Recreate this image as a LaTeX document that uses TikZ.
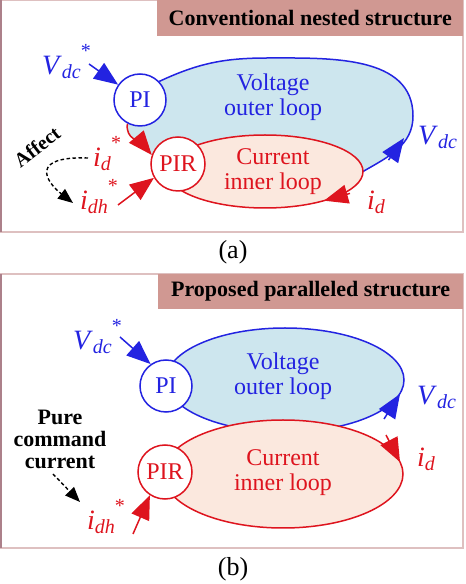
\documentclass[tikz,border=0pt]{standalone}
\usepackage{fontspec}
\setmainfont{Liberation Serif}
\usetikzlibrary{arrows.meta}

\definecolor{vblue}{RGB}{35,35,225}
\definecolor{cred}{RGB}{222,20,30}
\definecolor{vfill}{RGB}{205,230,238}
\definecolor{cfill}{RGB}{251,232,222}
\definecolor{titlefill}{RGB}{208,152,146}
\definecolor{framelight}{RGB}{222,192,192}
\definecolor{framedark}{RGB}{172,128,138}

% signal name: main letter, subscript, superscript
\newcommand\sig[3]{\textit{#1}\raisebox{-0.12em}{\fontsize{20}{20}\selectfont\textit{#2}}\raisebox{0.62em}{\fontsize{20}{20}\selectfont #3}}

\pgfdeclarelayer{front}
\pgfsetlayers{main,front}

\tikzset{
  blueline/.style={draw=vblue, line width=1.5pt},
  redline/.style={draw=cred, line width=1.5pt},
  dashline/.style={draw=black, line width=1.4pt, dash pattern=on 3.5pt off 2.5pt},
  headtip/.style={-{Triangle[length=24pt,width=19pt]}},
  smalltip/.style={-{Triangle[length=15pt,width=12pt]}},
  ctrlbox/.style={circle, line width=1.5pt, fill=white, inner sep=0pt,
    font=\fontsize{24}{24}\selectfont},
  pibox/.style={ctrlbox, draw=vblue, text=vblue, minimum size=52pt},
  pirbox/.style={ctrlbox, draw=cred, text=cred, minimum size=54pt},
  looptext/.style={align=center, font=\fontsize{24}{25}\selectfont},
  sigtext/.style={font=\fontsize{28}{28}\selectfont, inner sep=0pt, anchor=base west},
  titlebox/.style={fill=titlefill, inner sep=0pt, anchor=north east,
    font=\bfseries\fontsize{22}{22}\selectfont},
  notetext/.style={align=center, font=\bfseries\fontsize{22}{22}\selectfont},
  caption/.style={font=\fontsize{26}{26}\selectfont},
}

\begin{document}
\begin{tikzpicture}[x=1pt,y=1pt]
\useasboundingbox (0,0) rectangle (466,584);

% ---------------- (a) conventional nested structure ----------------
\draw[framelight, line width=1.2pt] (1,583.4) rectangle (463,352);
\draw[framedark, line width=2pt] (1,584) -- (1,352);
\node[titlebox, minimum width=306pt, minimum height=36pt] (ta) at (463.4,584)
  {Conventional nested structure};

\begin{pgfonlayer}{front}
  \node[pibox] (PIa) at (140,484) {PI};
  \node[pirbox] (PIRa) at (178,420) {PIR};
\end{pgfonlayer}

\coordinate (CLa) at (265,412.5);
\coordinate (Ea) at (363,412.5);

% voltage loop area
\fill[vfill] (PIa.242) to[out=-100,in=130] (PIRa.161) -- (CLa) -- (Ea)
  to[out=30,in=-90] (413,468) to[out=90,in=0] (268,526)
  to[out=180,in=25] (PIa.44) -- (PIa.center) -- cycle;
\draw[blueline] (Ea) to[out=30,in=-90] (413,468)
  to[out=90,in=0] (268,526) to[out=180,in=25] (PIa.44);
\coordinate (vfa0) at (388.5,423.9);
\coordinate (vfa1) at (404,446);
\draw[blueline, headtip] (vfa0) -- (vfa1);

% current loop
\draw[redline, fill=cfill] (CLa) ellipse [x radius=98, y radius=36.5];
\coordinate (cfa0) at (350,390.6);
\coordinate (cfa1) at (324,383.3);
\draw[redline, headtip] (cfa0) -- (cfa1);
\draw[redline, headtip] (PIa.242) to[out=-100,in=130] (PIRa.161);

\node[looptext, text=vblue] (vola) at (273,487) {Voltage\\outer loop};
\node[looptext, text=cred] (cura) at (273,412.5) {Current\\inner loop};

\node[sigtext, text=vblue] (vdsa) at (42,509) {\sig{V}{dc}{*}};
\node[sigtext, text=cred] (idsa) at (93,417) {\sig{i}{d}{*}};
\node[sigtext, text=cred] (idha) at (80,374) {\sig{i}{dh}{*}};
\node[sigtext, text=vblue] (vda) at (418,439) {\sig{V}{dc}{}};
\node[sigtext, text=cred] (ida) at (367,374) {\sig{i}{d}{}};

\coordinate (va0) at (89,520);
\draw[blueline, headtip] (va0) -- (PIa.145);
\coordinate (ia0) at (118,379);
\draw[redline, headtip] (ia0) -- (PIRa.210);

\node[font=\bfseries\fontsize{20}{20}\selectfont, rotate=38] (aff) at (37,437) {Affect};
\coordinate (da0) at (88,426);
\coordinate (da1) at (73,381);
\draw[dashline, smalltip] (da0) .. controls (30,428) and (45,403) .. (da1);

\node[caption] (capa) at (233,332) {(a)};

% ---------------- (b) proposed paralleled structure ----------------
\draw[framelight, line width=1.2pt] (1,310) rectangle (463,36);
\draw[framedark, line width=2pt] (1,310) -- (1,36);
\node[titlebox, minimum width=305pt, minimum height=35pt] (tb) at (463.4,310)
  {Proposed paralleled structure};

\begin{pgfonlayer}{front}
  \node[pibox] (PIb) at (166,198) {PI};
  \node[pirbox] (PIRb) at (165,112) {PIR};
\end{pgfonlayer}

\coordinate (CVb) at (285,204);
\coordinate (CCb) at (283,110);
\draw[blueline, fill=vfill] (CVb) ellipse [x radius=119, y radius=52];
\draw[redline, fill=cfill] (CCb) ellipse [x radius=120, y radius=54];

\node[looptext, text=vblue] (volb) at (283,207.5) {Voltage\\outer loop};
\node[looptext, text=cred] (curb) at (283,111.5) {Current\\inner loop};

\node[sigtext, text=vblue] (vdsb) at (73,234) {\sig{V}{dc}{*}};
\node[sigtext, text=vblue] (vdb) at (417,179) {\sig{V}{dc}{}};
\node[sigtext, text=cred] (idb) at (417,117) {\sig{i}{d}{}};
\node[sigtext, text=cred] (idhb) at (87,54) {\sig{i}{dh}{*}};

\coordinate (vb0) at (120,247);
\draw[blueline, headtip] (vb0) -- (PIb.125);
\coordinate (ib0) at (133,50);
\draw[redline, headtip] (ib0) -- (PIRb.237);

\node[notetext] (pcc) at (60,145) {Pure\\command\\current};
\coordinate (db0) at (53,110);
\coordinate (db1) at (80,82);
\draw[dashline, smalltip] (db0) -- (db1);

% loop direction heads on the right side of both loops
\coordinate (vfb0) at (384,165);
\coordinate (vfb1) at (400,190);
\draw[blueline, headtip] (vfb0) -- (vfb1);
\coordinate (cfb0) at (386,149);
\coordinate (cfb1) at (400,122);
\draw[redline, headtip] (cfb0) -- (cfb1);

\node[caption] (capb) at (233,15) {(b)};
\end{tikzpicture}
\end{document}
